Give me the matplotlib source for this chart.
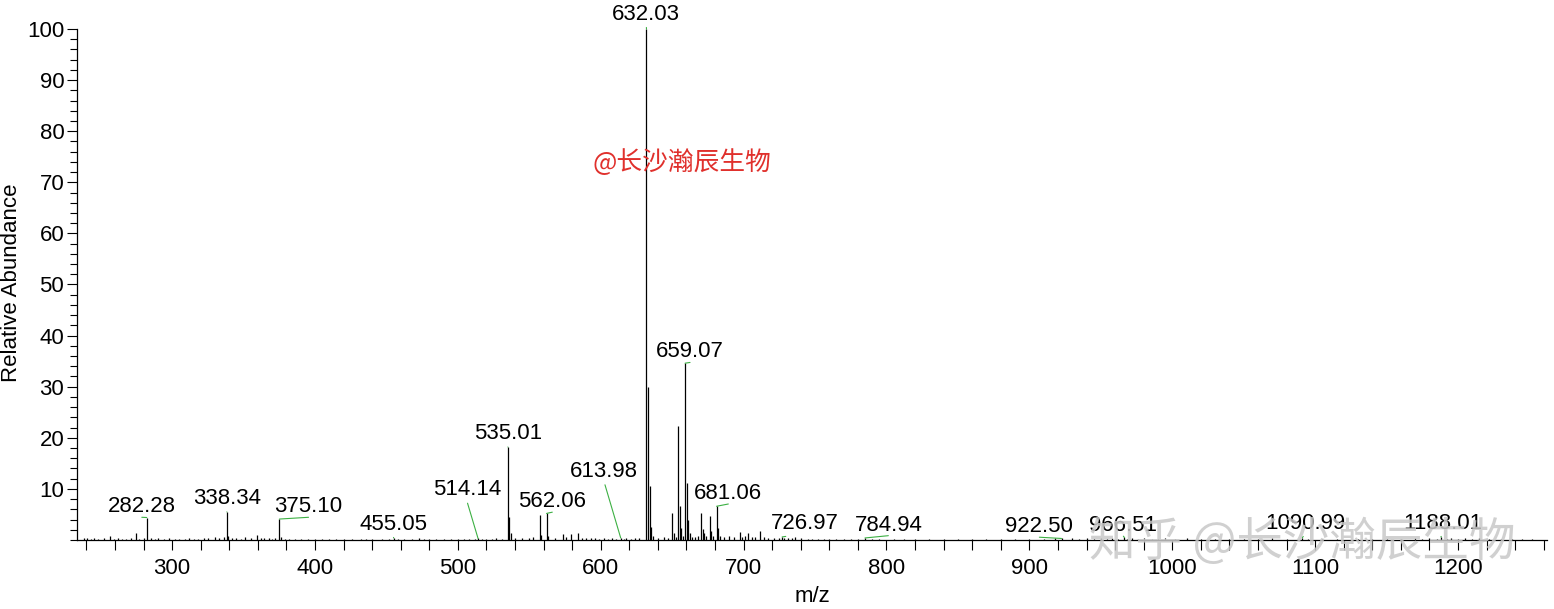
#!/usr/bin/env python3
"""
Mass spectrum (relative abundance vs m/z) drawn as stick peaks,
with labelled peaks and green leader lines.
"""
import matplotlib
matplotlib.use('Agg')
import matplotlib.pyplot as plt
from matplotlib.ticker import MultipleLocator

plt.rcParams['font.family'] = ['Liberation Sans', 'Noto Sans CJK SC', 'DejaVu Sans']

# labelled peaks: m/z and relative abundance
label_mz = [282.28, 338.34, 375.10, 455.05, 514.14, 535.01, 562.06, 613.98,
            632.03, 659.07, 681.06, 726.97, 784.94, 922.50, 966.51,
            1090.99, 1188.01]
label_int = [4.4, 5.5, 4.1, 0.4, 0.3, 18.2, 5.2, 0.4,
             100.0, 34.6, 6.6, 0.6, 0.4, 0.3, 0.5,
             0.4, 0.6]

# other (unlabelled) peaks: (m/z, abundance)
other_peaks = [
    (238, 0.3), (240.5, 0.4), (243, 0.2), (245, 0.3), (248, 0.2),
    (252, 0.3), (256.6, 0.8), (259, 0.2), (262, 0.3), (265, 0.2),
    (268, 0.2), (271, 0.3), (274.8, 1.4), (277, 0.2), (280, 0.3),
    (285, 0.4), (288, 0.2), (290, 0.3), (294, 0.2), (298, 0.3),
    (302, 0.2), (305, 0.2), (309, 0.2), (312, 0.3), (315, 0.2),
    (318, 0.2), (322, 0.3), (325, 0.4), (330, 0.5), (333, 0.4),
    (336, 0.6), (339.3, 0.8), (342, 0.3), (345, 0.3), (348, 0.2),
    (351, 0.5), (355, 0.3), (359.2, 0.9), (362, 0.3), (364, 0.4),
    (368, 0.3), (370, 0.2), (372, 0.4), (376.1, 0.6), (379, 0.2),
    (382, 0.2), (386, 0.2), (390, 0.2), (395, 0.2), (400, 0.2),
    (405, 0.2), (410, 0.2), (415, 0.2), (420, 0.2), (426, 0.2),
    (432, 0.2), (436, 0.2), (440, 0.2), (447, 0.2), (452, 0.2),
    (458, 0.2), (462, 0.2), (468, 0.2), (473, 0.4), (476, 0.2),
    (480, 0.2), (485, 0.2), (490, 0.2), (495, 0.2), (500, 0.2),
    (504, 0.2), (508, 0.2), (512, 0.2), (517, 0.2), (520, 0.2),
    (524, 0.2), (527, 0.3), (531, 0.2), (536.0, 4.5), (537.0, 1.4),
    (540, 0.3), (545, 0.3), (550, 0.4), (552.5, 0.6), (557.3, 4.9),
    (558.3, 1.0), (563.2, 0.8), (568, 0.4), (573.4, 1.1), (576, 0.5),
    (579.5, 1.2), (584.2, 1.3), (587, 0.3), (590, 0.4), (593, 0.3),
    (596, 0.3), (599, 0.2), (602, 0.3), (605, 0.2), (608, 0.4),
    (611, 0.2), (616, 0.2), (618, 0.3), (621, 0.2), (624, 0.3),
    (627, 0.4), (633.2, 29.9), (634.4, 10.6), (635.4, 2.6), (636.5, 0.8),
    (640, 0.4), (644, 0.6), (647, 0.4), (650.1, 5.3), (651.2, 1.3),
    (652.5, 0.6), (654.3, 22.4), (655.4, 6.6), (656.4, 2.3), (657.5, 0.8),
    (660.3, 11.2), (661.3, 3.9), (662.4, 1.3), (664, 0.6), (666, 0.5),
    (668, 0.7), (670.1, 5.2), (671.3, 2.1), (672.3, 1.3), (674, 0.8),
    (676.2, 4.7), (677.3, 1.7), (678.5, 0.8), (682.2, 2.3), (683.3, 0.8),
    (686, 0.6), (690, 0.8), (693, 0.5), (697.2, 1.5), (699, 0.6),
    (701, 0.7), (703, 1.4), (706, 0.6), (708, 0.5), (711.2, 1.8),
    (714, 0.5), (717, 0.4), (721, 0.3), (725, 0.3), (728, 0.3),
    (731, 0.4), (734, 0.3), (736, 0.5), (740, 0.3), (745, 0.2),
    (748, 0.2), (752, 0.2), (756, 0.2), (760, 0.2), (765, 0.2),
    (770, 0.2), (775, 0.2), (780, 0.2), (790, 0.2), (795, 0.2),
    (805, 0.2), (812, 0.2), (820, 0.2), (830, 0.2), (840, 0.2),
    (850, 0.2), (860, 0.2), (870, 0.2), (880, 0.2), (890, 0.2),
    (900, 0.2), (910, 0.2), (918, 0.3), (930, 0.3), (935, 0.2),
    (940, 0.3), (945, 0.2), (950, 0.3), (954, 0.2), (958, 0.4),
    (962, 0.2), (968, 0.2), (972, 0.3), (976, 0.2), (980, 0.4),
    (986, 0.2), (990, 0.2), (995, 0.3), (1002, 0.2), (1010, 0.3),
    (1020, 0.2), (1030, 0.2), (1040, 0.2), (1050, 0.2), (1060, 0.2),
    (1070, 0.3), (1080, 0.2), (1095, 0.2), (1105, 0.2), (1115, 0.2),
    (1130, 0.2), (1140, 0.2), (1150, 0.2), (1160, 0.2), (1170, 0.3),
    (1175, 0.2), (1180, 0.4), (1185, 0.2), (1192, 0.2), (1195, 0.3),
    (1200, 0.2), (1205, 0.4), (1210, 0.2), (1215, 0.3), (1222, 0.2),
    (1230, 0.2), (1238, 0.2), (1245, 0.2), (1252, 0.2),
]
peak_mz = [p[0] for p in other_peaks]
peak_int = [p[1] for p in other_peaks]

# where each peak label sits (layout, in data units)
label_pos = [(278.8, 6.5), (338.5, 8.1), (395.5, 6.5), (454.7, 3.1),
             (506.2, 9.8), (535.1, 20.8), (566.1, 7.5), (602.4, 13.4),
             (631.8, 102.9), (662.5, 36.8), (689.3, 9.1), (743.0, 3.3),
             (801.3, 2.9), (907.0, 2.6), (965.8, 2.8), (1092.9, 3.3),
             (1189.7, 3.3)]

fig = plt.figure(figsize=(15.54, 6.09), dpi=100)
ax = fig.add_axes([0.0496, 0.1133, 0.9459, 0.8391])

ax.vlines(peak_mz, 0, peak_int, color='black', lw=0.9)
ax.vlines(label_mz, 0, label_int, color='black', lw=0.9)

for mz, inten, (tx, ty) in zip(label_mz, label_int, label_pos):
    ax.annotate(f'{mz:.2f}', xy=(mz, inten), xytext=(tx, ty),
                ha='center', va='center', fontsize=16,
                annotation_clip=False,
                arrowprops=dict(arrowstyle='-', color='#3cb043', lw=0.8,
                                shrinkA=0, shrinkB=0, relpos=(0.5, 0.0)))

ax.set_xlim(233.5, 1262.3)
ax.set_ylim(0, 100)
ax.spines['top'].set_visible(False)
ax.spines['right'].set_visible(False)
ax.spines['left'].set_linewidth(0.9)
ax.spines['bottom'].set_linewidth(0.9)

ax.xaxis.set_major_locator(MultipleLocator(100))
ax.xaxis.set_minor_locator(MultipleLocator(20))
ax.yaxis.set_major_locator(MultipleLocator(10))
ax.yaxis.set_minor_locator(MultipleLocator(2))
ax.set_yticks(range(10, 101, 10))
ax.tick_params(axis='x', which='both', direction='out', length=7.2,
               width=0.8, labelsize=16, pad=6)
ax.tick_params(axis='y', which='major', direction='out', length=7.2,
               width=0.8, labelsize=16, pad=2)
ax.tick_params(axis='y', which='minor', direction='out', length=5,
               width=0.8)

fig.text(12 / 1554, 1 - 283 / 609, 'Relative Abundance', rotation=90,
         ha='center', va='center', fontsize=16)
fig.text(812 / 1554, 1 - 596 / 609, 'm/z', ha='center', va='center',
         fontsize=16)

# watermarks
ax.text(0.4116, 0.738, '@长沙瀚辰生物', transform=ax.transAxes,
        ha='center', va='center', fontsize=18.5, color='#e0302c',
        family=['Noto Sans CJK SC', 'DejaVu Sans'])
fig.text(1302 / 1554, 1 - 543 / 609, '知乎 @长沙瀚辰生物',
         ha='center', va='center', fontsize=33.5, color='#c8c8c8', alpha=0.85,
         family=['Noto Sans CJK SC', 'DejaVu Sans'])

fig.savefig('out.png', dpi=100)
